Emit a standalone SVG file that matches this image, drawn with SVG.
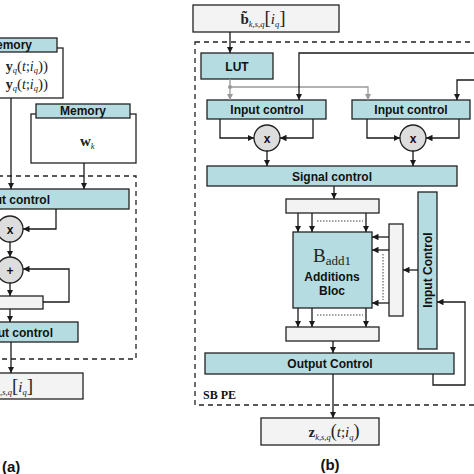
<svg xmlns="http://www.w3.org/2000/svg" width="474" height="474" viewBox="0 0 474 474">
<defs>
<marker id="ah" viewBox="0 0 10 10" refX="10" refY="5" markerWidth="6.5" markerHeight="6.5" orient="auto" markerUnits="userSpaceOnUse"><path d="M0,0 L10,5 L0,10 z" fill="#1a1a1a"/></marker>
<marker id="ahg" viewBox="0 0 10 10" refX="10" refY="5" markerWidth="6.5" markerHeight="6.5" orient="auto" markerUnits="userSpaceOnUse"><path d="M0,0 L10,5 L0,10 z" fill="#999"/></marker>
<style>
.t{fill:#b5dde1;stroke:#222;stroke-width:1.3}
.g{fill:#f3f3f3;stroke:#222;stroke-width:1.3}
.w{fill:#fff;stroke:#222;stroke-width:1.3}
.c{fill:#ddd;stroke:#222;stroke-width:1.3}
.dash{fill:none;stroke:#222;stroke-width:1.3;stroke-dasharray:5,4}
.ln{fill:none;stroke:#1a1a1a;stroke-width:1.3;marker-end:url(#ah)}
.gl{fill:none;stroke:#999;stroke-width:1.3;marker-end:url(#ahg)}
.dot{fill:none;stroke:#444;stroke-width:1;stroke-dasharray:1.5,1.5}
.lb{font-family:"Liberation Sans",Arial,sans-serif;font-weight:bold;font-size:12px;fill:#111;text-anchor:middle}
.m{font-family:"Liberation Serif","Times New Roman",serif;fill:#222}
.s{font-size:8.5px;font-style:italic}
.i{font-style:italic}
.b{font-weight:bold}
</style>
</defs>

<g id="frames">
<rect class="dash" x="-20" y="176" width="156" height="183"/>
<rect class="dash" x="195" y="42" width="300" height="363"/>
</g>

<g id="mem1">
<rect class="w" x="-20" y="48" width="83" height="50"/>
<rect class="t" x="-20" y="38" width="77" height="14"/>
<text class="lb" x="32" y="49" style="text-anchor:end">Memory</text>
<text class="m" x="48" y="71" font-size="14" text-anchor="end"><tspan class="b">y</tspan><tspan class="s" dy="2">q</tspan><tspan dy="-2" font-size="15">(</tspan><tspan class="i">t</tspan>;<tspan class="i">i</tspan><tspan class="s" dy="2">q</tspan><tspan dy="-2" font-size="15">))</tspan></text>
<text class="m" x="48" y="89" font-size="14" text-anchor="end"><tspan class="b">y</tspan><tspan class="s" dy="2">q</tspan><tspan dy="-2" font-size="15">(</tspan><tspan class="i">t</tspan>;<tspan class="i">i</tspan><tspan class="s" dy="2">q</tspan><tspan dy="-2" font-size="15">))</tspan></text>
</g>

<g id="mem2">
<rect class="w" x="31" y="114" width="105" height="49"/>
<rect class="t" x="36" y="104" width="94" height="14"/>
<text class="lb" x="83" y="115">Memory</text>
<text class="m" x="80" y="146" font-size="15"><tspan class="b">w</tspan><tspan class="s" dy="3">k</tspan></text>
</g>

<g id="inctl-a">
<rect class="t" x="-20" y="189" width="149" height="20"/>
<text class="lb" x="50" y="204" font-size="13" style="text-anchor:end">Input control</text>
</g>
<g id="mul-a">
<circle class="c" cx="10" cy="229" r="13"/>
<text class="lb" x="10" y="234" font-size="13">x</text>
</g>
<g id="add-a">
<circle class="c" cx="10" cy="270" r="13"/>
<text class="lb" x="10" y="275" font-size="13">+</text>
</g>
<g id="reg-a"><rect class="g" x="-20" y="296" width="63" height="13"/></g>
<g id="outctl-a">
<rect class="t" x="-20" y="322" width="98" height="20"/>
<text class="lb" x="53" y="337" font-size="13" style="text-anchor:end">Output control</text>
</g>
<g id="out-a">
<rect class="g" x="-20" y="373" width="103" height="26"/>
<text class="m" x="33" y="392" font-size="15" text-anchor="end"><tspan class="b">z</tspan><tspan class="s" dy="3">k,s,q</tspan><tspan dy="-3" font-size="19">[</tspan><tspan class="i">i</tspan><tspan class="s" dy="3">q</tspan><tspan dy="-3" font-size="19">]</tspan></text>
</g>
<text id="lbl-a" x="2" y="472" font-family="Liberation Sans,Arial,sans-serif" font-weight="bold" font-size="15" fill="#111">(a)</text>

<g id="in-b">
<rect class="g" x="193" y="5" width="146" height="27"/>
<text class="m" x="263" y="24" font-size="15" text-anchor="middle"><tspan class="b">b̃</tspan><tspan class="s" dy="3">k,s,q</tspan><tspan dy="-3" font-size="19">[</tspan><tspan class="i">i</tspan><tspan class="s" dy="3">q</tspan><tspan dy="-3" font-size="19">]</tspan></text>
</g>
<g id="lut">
<rect class="t" x="201" y="53" width="72" height="26"/>
<text class="lb" x="237" y="71" font-size="14">LUT</text>
</g>
<g id="ic1">
<rect class="t" x="207" y="100" width="119" height="19"/>
<text class="lb" x="267" y="114" font-size="12.5">Input control</text>
</g>
<g id="ic2">
<rect class="t" x="352" y="100" width="118" height="19"/>
<text class="lb" x="411" y="114" font-size="12.5">Input control</text>
</g>
<g id="mul1">
<circle class="c" cx="267" cy="138" r="13"/>
<text class="lb" x="267" y="143" font-size="13">x</text>
</g>
<g id="mul2">
<circle class="c" cx="413" cy="138" r="13"/>
<text class="lb" x="413" y="143" font-size="13">x</text>
</g>
<g id="sig">
<rect class="t" x="207" y="166" width="250" height="20"/>
<text class="lb" x="332" y="181" font-size="12.5">Signal control</text>
</g>
<g id="regtop"><rect class="g" x="286" y="199" width="93" height="14"/></g>
<g id="badd">
<rect class="t" x="293" y="232" width="79" height="76"/>
<text class="m" x="332" y="262" font-size="19" text-anchor="middle">B<tspan font-size="13" dy="3">add1</tspan></text>
<text class="lb" x="332" y="281" font-size="12.5">Additions</text>
<text class="lb" x="332" y="295" font-size="12.5">Bloc</text>
</g>
<g id="regbot"><rect class="g" x="286" y="327" width="93" height="14"/></g>
<g id="regv"><rect class="g" x="389" y="224" width="14" height="92"/></g>
<g id="icv">
<rect class="t" x="418" y="192" width="19" height="157"/>
<text class="lb" transform="translate(432,270) rotate(-90)" font-size="12.5">Input Control</text>
</g>
<g id="oc">
<rect class="t" x="205" y="353" width="249" height="21"/>
<text class="lb" x="330" y="368" font-size="12.5">Output Control</text>
</g>
<g id="out-b">
<rect class="g" x="261" y="418" width="118" height="27"/>
<text class="m" x="334" y="437" font-size="15" text-anchor="middle"><tspan class="b">z</tspan><tspan class="s" dy="3">k,s,q</tspan><tspan dy="-3" font-size="18">(</tspan><tspan class="i">t</tspan>;<tspan class="i">i</tspan><tspan class="s" dy="3">q</tspan><tspan dy="-3" font-size="18">)</tspan></text>
</g>
<text id="sbpe" x="203" y="399" font-family="Liberation Serif,serif" font-weight="bold" font-size="12" fill="#111">SB PE</text>
<text id="lbl-b" x="330" y="470" font-family="Liberation Sans,Arial,sans-serif" font-weight="bold" font-size="15" fill="#111" text-anchor="middle">(b)</text>

<g id="connectors">
<path class="ln" d="M11,98 V189"/>
<path class="ln" d="M84,163 V189"/>
<path class="ln" d="M56,209 V229 H23"/>
<path class="ln" d="M10,242 V257"/>
<path class="ln" d="M10,283 V296"/>
<path class="ln" d="M43,302 H69 V269 H23"/>
<path class="ln" d="M10,309 V322"/>
<path class="ln" d="M11,342 V373"/>

<path class="ln" d="M230,32 V53"/>
<path class="gl" d="M230,79 V100"/>
<path class="gl" d="M230,87 H368 V100"/>
<circle cx="230" cy="87" r="2" fill="#999"/>
<path class="ln" d="M474,53 H299 V100"/>
<path class="ln" d="M474,80 H457 V100"/>
<path class="ln" d="M220,119 V138 H254"/>
<path class="ln" d="M313,119 V138 H280"/>
<path class="ln" d="M367,119 V138 H400"/>
<path class="ln" d="M459,119 V138 H426"/>
<path class="ln" d="M267,151 V166"/>
<path class="ln" d="M413,151 V166"/>
<path class="ln" d="M334,186 V199"/>
<path class="ln" d="M298,213 V232"/>
<path class="ln" d="M312,213 V232"/>
<path class="ln" d="M366,213 V232"/>
<path class="dot" d="M317,221 H363"/>
<path class="ln" d="M298,308 V327"/>
<path class="ln" d="M312,308 V327"/>
<path class="ln" d="M366,308 V327"/>
<path class="dot" d="M317,315 H363"/>
<path class="ln" d="M389,237 H372"/>
<path class="ln" d="M389,250 H372"/>
<path class="ln" d="M389,303 H372"/>
<path class="dot" d="M383,254 V300"/>
<path class="ln" d="M418,270 H403"/>
<path class="ln" d="M333,341 V353"/>
<path class="ln" d="M433,374 V385 H465 V302 H437"/>
<path class="ln" d="M333,374 V418"/>
</g>
</svg>
